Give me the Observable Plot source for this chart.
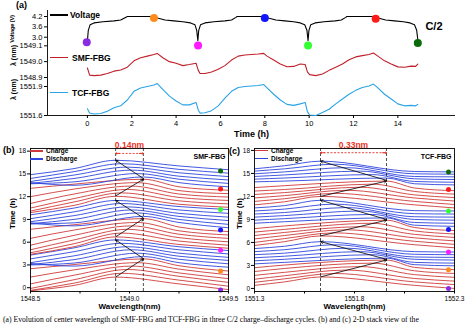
<!DOCTYPE html>
<html><head><meta charset="utf-8">
<script src="https://cdn.jsdelivr.net/npm/d3@7"></script>
<script src="https://cdn.jsdelivr.net/npm/@observablehq/plot@0.6"></script>
<style>
body{margin:0;background:#fff}
#root{position:relative;width:474px;height:326px;overflow:hidden;background:#fff;font-family:"Liberation Sans",Arial,sans-serif}
#root svg{overflow:visible;background:transparent}
</style></head><body><div id="root"></div>
<script>
// ---------- Panel (a) data ----------
const aXDomain = [-1.8, 16.6];
const aXTicks = [0, 2, 4, 6, 8, 10, 12, 14];
const vTime = [0,0.04,0.12,0.3,0.7,1.2,1.5,1.72,1.8,3.0,3.2,3.5,3.9,4.3,4.65,4.85,4.93,4.98,
  5.02,5.1,5.3,5.7,6.2,6.5,6.7,6.75,7.97,8.2,8.5,8.9,9.3,9.6,9.8,9.9,9.95,
  9.99,10.07,10.27,10.67,11.17,11.45,11.65,11.7,12.95,13.15,13.45,13.85,14.25,14.55,14.75,14.85,14.9];
const vVolt = [2.8,3.4,3.72,3.83,3.9,3.95,4.0,4.15,4.2,4.2,4.1,4.0,3.95,3.9,3.83,3.72,3.4,2.8,
  3.4,3.72,3.83,3.9,3.95,4.0,4.15,4.2,4.2,4.1,4.0,3.95,3.9,3.83,3.72,3.4,2.8,
  3.4,3.72,3.83,3.9,3.95,4.0,4.15,4.2,4.2,4.1,4.0,3.95,3.9,3.83,3.72,3.4,2.85];
const vDomain = [2.52, 4.55];
const vTicks = [3.0, 3.6, 4.2];
const aDotTime = [-0.03, 3.0, 4.99, 8.0, 9.95, 13.0, 14.9];
const aDotVolt = [2.71, 4.12, 2.52, 4.12, 2.52, 4.07, 2.67];
const dotColors = ["#8a2be2","#ff8c1a","#ff1aff","#1414ff","#33ff33","#ff1a1a","#0b6b0b"];

const aTime = [0.0,0.1,0.3,0.6,0.9,1.2,1.5,1.8,2.1,2.4,2.7,3.0,3.15,3.4,3.7,4.0,4.3,4.6,4.9,5.0,5.08,5.3,5.6,5.9,6.2,6.5,6.8,7.1,7.4,7.7,7.95,8.1,8.4,8.7,9.0,9.3,9.6,9.82,9.92,10.02,10.3,10.6,10.9,11.2,11.5,11.8,12.1,12.4,12.7,12.9,13.1,13.4,13.7,14.0,14.3,14.6,14.8,14.9];
const aSMF = [1548.96,1548.915,1548.912,1548.915,1548.925,1548.94,1548.947,1548.965,1549.005,1549.025,1549.035,1549.045,1549.052,1549.025,1549.0,1548.99,1548.975,1548.982,1548.99,1548.945,1548.925,1548.925,1548.935,1548.952,1548.975,1549.01,1549.035,1549.042,1549.045,1549.048,1549.052,1549.035,1549.01,1548.985,1548.968,1548.97,1548.985,1548.982,1548.935,1548.918,1548.912,1548.922,1548.945,1548.965,1548.985,1549.012,1549.03,1549.038,1549.045,1549.055,1549.035,1549.005,1548.985,1548.967,1548.965,1548.972,1548.97,1548.985];
const aTCF = [1551.67,1551.625,1551.615,1551.62,1551.645,1551.68,1551.7,1551.76,1551.85,1551.885,1551.9,1551.915,1551.93,1551.87,1551.8,1551.75,1551.71,1551.71,1551.735,1551.655,1551.625,1551.628,1551.65,1551.7,1551.78,1551.85,1551.89,1551.9,1551.905,1551.91,1551.92,1551.885,1551.82,1551.76,1551.715,1551.705,1551.72,1551.735,1551.64,1551.605,1551.6,1551.63,1551.665,1551.72,1551.77,1551.82,1551.86,1551.89,1551.905,1551.925,1551.885,1551.82,1551.77,1551.72,1551.7,1551.705,1551.7,1551.715];
const smfADomain = [1548.881, 1549.102];
const smfATicks = [1548.9, 1549.0, 1549.1];
const tcfADomain = [1551.6, 1551.962];
const tcfATicks = [1551.6, 1551.9];

// ---------- Panels (b),(c) data ----------
const timeTicks = [0, 3, 6, 9, 12, 15, 18];
const smfXTicks = [1548.5, 1548.75, 1549.0, 1549.25, 1549.5];
const tcfXTicks = [1551.3, 1551.55, 1551.8, 1552.05, 1552.3];
const smfCtrlX = [1548.5, 1548.72, 1549.25, 1549.5];   // left, shoulder-left, shoulder-right, right
const tcfCtrlX = [1551.3, 1551.45, 1552.1, 1552.3];
const smfLimits = [1548.93, 1549.07];
const tcfLimits = [1551.63, 1551.96];
// rows: [phase, L, M, peakX, peakY, S, R]
const smfLines = [
 ["c",-0.4,0.3,1548.93,1.4,0.5,-0.25],["c",-0.35,0.6,1548.96,1.9,1.0,0.2],["c",-0.1,1.05,1548.99,2.4,1.5,0.7],
 ["c",0.5,1.65,1549.01,2.85,1.95,1.2],["c",1.4,2.35,1549.04,3.3,2.45,1.7],["c",2.5,3.05,1549.07,3.8,2.9,2.2],
 ["d",3.2,2.85,1549.07,4.1,3.3,2.7],["d",3.0,3.25,1549.04,4.55,3.75,3.15],["d",3.05,3.7,1549.01,5.0,4.15,3.6],
 ["d",3.3,4.2,1548.99,5.4,4.55,4.0],["d",3.8,4.75,1548.96,5.85,5.0,4.45],["d",4.3,5.25,1548.93,6.3,5.4,4.9],
 ["c",4.4,5.4,1548.93,6.7,5.7,5.2],["c",4.6,5.8,1548.96,7.2,6.15,5.6],["c",5.0,6.3,1548.99,7.7,6.6,6.05],
 ["c",5.6,6.9,1549.01,8.15,7.05,6.5],["c",6.5,7.6,1549.04,8.6,7.5,6.95],["c",7.7,8.3,1549.07,9.1,8.0,7.4],
 ["d",8.55,8.15,1549.07,9.4,8.6,7.9],["d",8.4,8.55,1549.04,9.85,9.0,8.35],["d",8.45,9.0,1549.01,10.25,9.4,8.85],
 ["d",8.7,9.5,1548.99,10.65,9.8,9.3],["d",9.1,10.0,1548.96,11.1,10.25,9.8],["d",9.6,10.5,1548.93,11.5,10.7,10.3],
 ["c",9.9,10.85,1548.93,12.05,11.0,10.6],["c",10.1,11.3,1548.96,12.5,11.45,11.05],["c",10.5,11.75,1548.99,12.95,11.9,11.5],
 ["c",11.1,12.35,1549.01,13.4,12.35,11.95],["c",12.0,13.0,1549.04,13.85,12.8,12.4],["c",13.1,13.65,1549.07,14.3,13.3,12.85],
 ["d",13.85,13.5,1549.07,14.6,13.85,13.3],["d",13.7,13.95,1549.04,15.05,14.3,13.75],["d",13.75,14.4,1549.01,15.5,14.7,14.2],
 ["d",14.0,14.85,1548.99,15.9,15.15,14.65],["d",14.4,15.3,1548.96,16.35,15.6,15.1],["d",14.9,15.7,1548.93,16.8,16.05,15.55]
];
const tcfLines = [
 ["c",0.4,0.85,1551.63,1.5,0.4,0.0],["c",0.8,1.25,1551.70,1.95,0.85,0.5],["c",1.2,1.65,1551.76,2.4,1.3,0.95],
 ["c",1.7,2.1,1551.83,2.85,1.8,1.45],["c",2.2,2.6,1551.89,3.3,2.3,1.95],["c",2.7,3.05,1551.96,3.7,2.75,2.45],
 ["d",3.2,3.4,1551.96,3.95,3.1,2.95],["d",3.6,3.8,1551.89,4.4,3.4,3.3],["d",4.0,4.2,1551.83,4.8,3.8,3.7],
 ["d",4.4,4.6,1551.76,5.25,4.1,4.05],["d",4.8,5.05,1551.70,5.7,4.45,4.4],["d",5.2,5.5,1551.63,6.1,4.8,4.75],
 ["c",5.6,6.1,1551.63,6.85,5.7,5.3],["c",6.0,6.5,1551.70,7.25,6.15,5.75],["c",6.45,6.9,1551.76,7.65,6.6,6.2],
 ["c",6.9,7.3,1551.83,8.05,7.05,6.65],["c",7.35,7.7,1551.89,8.5,7.5,7.1],["c",7.8,8.15,1551.96,8.9,7.95,7.55],
 ["d",8.5,8.7,1551.96,9.2,8.25,8.1],["d",8.9,9.1,1551.89,9.65,8.6,8.5],["d",9.3,9.5,1551.83,10.1,9.0,8.9],
 ["d",9.7,9.9,1551.76,10.55,9.35,9.3],["d",10.1,10.35,1551.70,11.0,9.75,9.7],["d",10.5,10.8,1551.63,11.5,10.15,10.1],
 ["c",10.9,11.3,1551.63,12.0,10.9,10.5],["c",11.35,11.7,1551.70,12.4,11.35,10.95],["c",11.8,12.1,1551.76,12.8,11.8,11.4],
 ["c",12.25,12.5,1551.83,13.2,12.2,11.85],["c",12.7,12.9,1551.89,13.6,12.65,12.3],["c",13.15,13.4,1551.96,14.0,13.1,12.75],
 ["d",13.9,14.0,1551.96,14.4,13.65,13.5],["d",14.25,14.4,1551.89,14.85,13.95,13.85],["d",14.6,14.8,1551.83,15.3,14.3,14.2],
 ["d",14.95,15.2,1551.76,15.75,14.6,14.55],["d",15.3,15.6,1551.70,16.2,14.95,14.9],["d",15.6,16.0,1551.63,16.6,15.25,15.2]
];
const smfArrows = [[1548.93,1.4,1549.07,3.8],[1549.07,3.85,1548.93,6.3],[1548.93,6.7,1549.07,9.1],
  [1549.07,9.2,1548.93,11.5],[1548.93,12.1,1549.07,14.3],[1549.07,14.4,1548.93,16.8]];
const tcfArrows = [[1551.63,1.5,1551.96,3.7],[1551.96,3.8,1551.63,6.1],[1551.63,6.85,1551.96,8.9],
  [1551.96,9.0,1551.63,11.5],[1551.63,12.0,1551.96,14.0],[1551.96,14.1,1551.63,16.6]];
const smfDotTime = [-0.3, 2.2, 4.95, 7.6, 10.3, 13.0, 15.4];
const tcfDotTime = [0.0, 2.45, 4.75, 7.7, 10.1, 12.9, 15.2];
const smfDotX = 1549.46, tcfDotX = 1552.27;
const smfShift = "0.14nm", tcfShift = "0.33nm";
const topArrowY = 17.7;

// ---------- helpers ----------
const FONT = '"Liberation Sans", Arial, sans-serif';
const RED = "#d03a3a", BLUE = "#2f45dc", SMFC = "#c0202a", TCFC = "#2aa3e6", SHIFTRED = "#e8322a";
const root = document.getElementById("root");
function place(svg, left, top){ svg.style.position="absolute"; svg.style.left=left+"px"; svg.style.top=top+"px"; root.appendChild(svg); }
function label(text, x, y, o={}){
  const d=document.createElement("div"); d.textContent=text;
  Object.assign(d.style,{position:"absolute",left:x+"px",top:y+"px",fontSize:(o.size||8)+"px",fontWeight:o.weight||"bold",
    color:o.color||"#000",whiteSpace:"nowrap",lineHeight:"1",fontFamily:o.family||FONT,letterSpacing:(o.ls||0)+"px",
    transform:`translate(${o.ax??0}%,-50%)`+(o.rot?` rotate(${o.rot}deg)`:"")});
  root.appendChild(d); return d;
}
function swatch(x1,x2,y,color){
  const d=document.createElement("div");
  Object.assign(d.style,{position:"absolute",left:x1+"px",top:(y-0.6)+"px",width:(x2-x1)+"px",height:"1.3px",background:color});
  root.appendChild(d);
}
const styleA = {fontFamily: FONT, fontSize: "7.5px", color: "#000", background: "transparent", overflow: "visible"};
const styleB = {fontFamily: FONT, fontSize: "6.5px", color: "#000", background: "transparent", overflow: "visible"};
const ylab = (t, dx, dy=0, fs=7.5) => Plot.text([t], {text: d=>d, frameAnchor:"left", dx, dy, rotate:-90, fontWeight:"bold", fontSize:fs});

// ---------- Panel (a) ----------
const series = (ys) => aTime.map((t,i)=>({t, y: ys[i]}));
const vPlot = Plot.plot({
  width:474, height:46, marginLeft:47, marginRight:19, marginTop:10, marginBottom:1, style:styleA,
  x:{domain:aXDomain, axis:null},
  y:{domain:vDomain, ticks:vTicks, tickFormat:d3.format(".1f"), tickSize:3, tickPadding:2, label:null},
  marks:[
    Plot.ruleX([aXDomain[0]], {strokeWidth:0.9}),
    Plot.line(vTime.map((t,i)=>({t, v:vVolt[i]})), {x:"t", y:"v", stroke:"#000", strokeWidth:1.1}),
    Plot.dot(aDotTime.map((t,i)=>({t, v:aDotVolt[i], c:dotColors[i]})), {x:"t", y:"v", fill:"c", r:4}),
    Plot.text(["C/2"], {text:d=>d, frameAnchor:"top-right", dx:-13, dy:12, fontSize:11, fontWeight:"bold"})
  ]
});
place(vPlot, 0, 0);
const sPlot = Plot.plot({
  width:474, height:35, marginLeft:47, marginRight:19, marginTop:0, marginBottom:0, style:styleA,
  x:{domain:aXDomain, axis:null},
  y:{domain:smfADomain, ticks:smfATicks, tickFormat:d3.format(".1f"), tickSize:3, tickPadding:2, label:null},
  marks:[
    Plot.ruleX([aXDomain[0]], {strokeWidth:0.9}),
    Plot.line(series(aSMF), {x:"t", y:"y", stroke:SMFC, strokeWidth:1.1}),
    ylab("λ (nm)", -34, 3, 7)
  ]
});
place(sPlot, 0, 45);
const tPlot = Plot.plot({
  width:474, height:60, marginLeft:47, marginRight:19, marginTop:0, marginBottom:25, style:styleA,
  x:{domain:aXDomain, ticks:aXTicks, tickSize:3, tickPadding:2, label:null},
  y:{domain:tcfADomain, ticks:tcfATicks, tickFormat:d3.format(".1f"), tickSize:3, tickPadding:2, label:null},
  marks:[
    Plot.ruleX([aXDomain[0]], {strokeWidth:0.9}),
    Plot.ruleY([tcfADomain[0]], {strokeWidth:0.9}),
    Plot.line(series(aTCF), {x:"t", y:"y", stroke:TCFC, strokeWidth:1.1}),
    ylab("λ (nm)", -34, 2, 7),
    Plot.text(["Time (h)"], {text:d=>d, frameAnchor:"bottom", dy:21, fontWeight:"bold", fontSize:9})
  ]
});
place(tPlot, 0, 80);
label("(a)", 16, 5, {size:9});
label("Voltage (V)", 13, 29, {size:5.8, ls:-0.2, ax:-50, rot:-90});
swatch(50, 68, 15, "#000"); label("Voltage", 70, 15, {size:8.5});
swatch(50, 68, 57.5, SMFC); label("SMF-FBG", 72, 57.5, {size:8.5});
swatch(50, 68, 92.5, TCFC); label("TCF-FBG", 72, 92.5, {size:8.5});

// ---------- Panels (b),(c) ----------
function waterfall(rows, cx){
  const pts=[];
  rows.forEach((r,i)=>{
    const [phase,L,M,P,H,S,R]=r;
    [[cx[0],L],[cx[1],M],[P,H],[cx[2],S],[cx[3],R]].forEach(([x,y])=>pts.push({id:i, phase, x, y}));
  });
  return pts;
}
function stackPanel(o){
  const [a,b]=o.limits, mid=(a+b)/2;
  return Plot.plot({
    width:237, height:178, marginLeft:o.ml, marginRight:o.mr, marginTop:13, marginBottom:22, style:styleB,
    x:{domain:o.xDomain, ticks:o.xTicks, tickFormat:(d,i)=> i%2===0 ? d.toFixed(1) : "", tickSize:2.5, tickPadding:2, label:null},
    y:{domain:o.yDomain, ticks:timeTicks, tickSize:3, tickPadding:1.5, label:null},
    marks:[
      Plot.line(waterfall(o.lines, o.ctrl), {x:"x", y:"y", z:"id", stroke:d=>d.phase==="c"?RED:BLUE, strokeWidth:0.9, curve:"monotone-x"}),
      Plot.ruleX(o.limits, {stroke:"#222", strokeWidth:0.8, strokeDasharray:"3,2"}),
      Plot.arrow(o.arrows, {x1:d=>d[0], y1:d=>d[1], x2:d=>d[2], y2:d=>d[3], stroke:"#000", strokeWidth:0.8, headLength:5}),
      Plot.ruleY([{y:topArrowY, x1:a, x2:b}], {y:"y", x1:"x1", x2:"x2", stroke:SHIFTRED, strokeWidth:0.9, strokeDasharray:"2,1.5"}),
      Plot.arrow([{x1:a+0.02, x2:a}, {x1:b-0.02, x2:b}], {x1:"x1", x2:"x2", y1:()=>topArrowY, y2:()=>topArrowY, stroke:SHIFTRED, strokeWidth:0.9, headLength:3.5}),
      Plot.text([{x:mid, t:o.shift}], {x:"x", text:"t", frameAnchor:"top", dy:-7, fill:SHIFTRED, fontWeight:"bold", fontSize:8.5}),
      Plot.dot(o.dots.map((t,i)=>({t, c:dotColors[i]})), {x:()=>o.dotX, y:"t", fill:"c", r:2.5}),
      Plot.frame({strokeWidth:0.9}),
      Plot.text([o.name], {text:d=>d, frameAnchor:"top-right", dx:-3, dy:6, fontWeight:"bold", fontSize:7}),
      Plot.text(["Time (h)"], {text:d=>d, frameAnchor:"left", dx:o.ylabDx, dy:9, rotate:-90, fontWeight:"bold", fontSize:8}),
      Plot.text(["Wavelength(nm)"], {text:d=>d, frameAnchor:"bottom", dy:17, fontWeight:"bold", fontSize:8})
    ]
  });
}
place(stackPanel({xDomain:[1548.5,1549.5], xTicks:smfXTicks, yDomain:[-0.5,18.35], ml:30, mr:9, lines:smfLines, ctrl:smfCtrlX,
  limits:smfLimits, arrows:smfArrows, shift:smfShift, dots:smfDotTime, dotX:smfDotX, name:"SMF-FBG", ylabDx:-18}), 0, 135);
place(stackPanel({xDomain:[1551.3,1552.3], xTicks:tcfXTicks, yDomain:[-0.4,18.25], ml:17, mr:20, lines:tcfLines, ctrl:tcfCtrlX,
  limits:tcfLimits, arrows:tcfArrows, shift:tcfShift, dots:tcfDotTime, dotX:tcfDotX, name:"TCF-FBG", ylabDx:-15}), 237, 135);
label("(b)", 3, 150, {size:9});
label("(c)", 229, 151, {size:9});
swatch(30, 43, 151, RED); label("Charge", 46, 151, {size:6.5});
swatch(30, 43, 159, BLUE); label("Discharge", 46, 159, {size:6.5});
swatch(255, 268, 150.5, RED); label("Charge", 271, 150.5, {size:6.5});
swatch(255, 268, 158.5, BLUE); label("Discharge", 271, 158.5, {size:6.5});

// ---------- caption ----------
label("(a) Evolution of center wavelength of SMF-FBG and TCF-FBG in three C/2 charge–discharge cycles. (b) and (c) 2-D stack view of the",
  3, 320, {size:7.7, weight:"normal", family:'"Liberation Serif", "Times New Roman", serif'});
</script></body></html>
